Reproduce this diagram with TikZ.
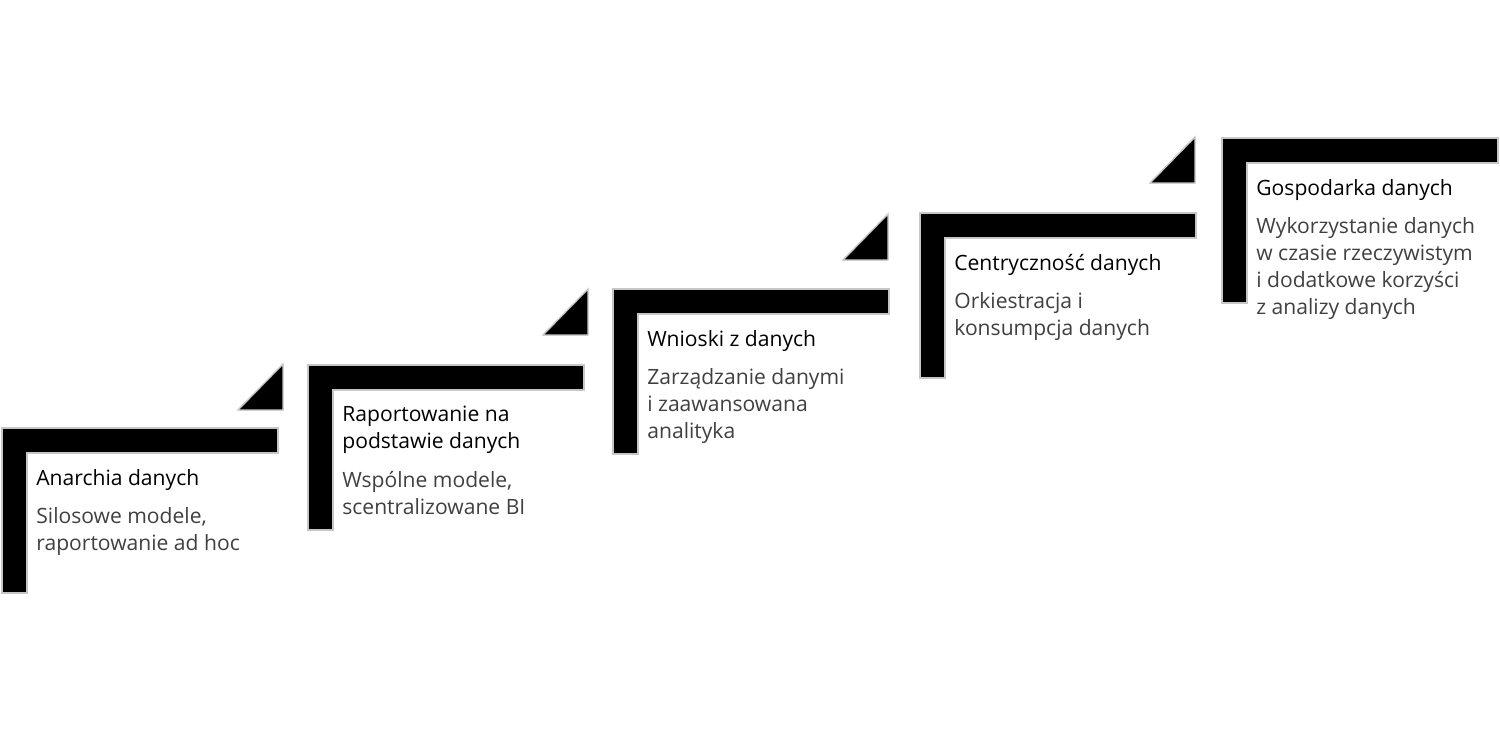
\documentclass[tikz,border=0pt]{standalone}
\usepackage{fontspec}
\setmainfont{Open Sans}
\usetikzlibrary{positioning}

\tikzset{
  stepbar/.style={fill=black,draw=gray!45,line width=0.8pt},
  steptitle/.style={anchor=north west,inner sep=0pt,align=left,
    font=\fontsize{12}{15.3}\selectfont},
  stepdesc/.style={steptitle,text=black!75},
}

\begin{document}
\begin{tikzpicture}[x=0.02cm,y=-0.02cm]
  \useasboundingbox (0,0) rectangle (1500,737);
  % steps: left/top corner of each bracket, title, description
  \foreach \i/\x/\y/\title/\sub in {%
      1/2/428/{Anarchia danych}/{Silosowe modele,\\raportowanie ad hoc},%
      2/308/365/{Raportowanie na\\podstawie danych}/{Wspólne modele,\\scentralizowane BI},%
      3/613/289/{Wnioski z danych}/{Zarządzanie danymi\\i zaawansowana\\analityka},%
      4/920/213/{Centryczność danych}/{Orkiestracja i\\konsumpcja danych},%
      5/1222/138/{Gospodarka danych}/{Wykorzystanie danych\\w czasie rzeczywistym\\i dodatkowe korzyści\\z analizy danych}} {
    \draw[stepbar] (\x,\y) -- ++(276,0) -- ++(0,25) -- ++(-251,0)
      -- ++(0,140) -- ++(-25,0) -- cycle;% bracket
    \node[steptitle] (t\i) at (\x+34,\y+41) {\title};
    \node[stepdesc,below=0.33cm of t\i.south west,anchor=north west] (d\i) {\sub};
  }
  % triangles between the steps (right angle corner)
  \foreach \tx/\ty in {283/410,588/335,888/260,1195/183}
    \draw[stepbar] (\tx,\ty) -- ++(0,-46) -- ++(-45,46) -- cycle;
\end{tikzpicture}
\end{document}
